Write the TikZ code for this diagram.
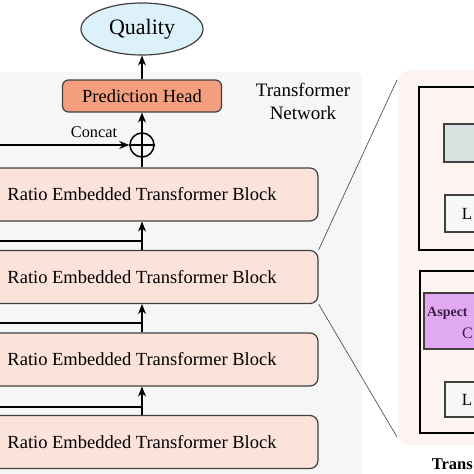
\documentclass[tikz,border=0pt]{standalone}
\usepackage{fontspec}
\setmainfont{Liberation Serif}
\usetikzlibrary{shapes.geometric,arrows.meta}

\definecolor{panelgray}{HTML}{F6F6F6}
\definecolor{panelpink}{HTML}{FDF3F1}
\definecolor{blockpink}{HTML}{FCE3DA}
\definecolor{headorange}{HTML}{F4A07E}
\definecolor{qualblue}{HTML}{DDF1FA}
\definecolor{normgray}{HTML}{D9E0E0}
\definecolor{arepurple}{HTML}{E2A9F3}
\definecolor{edgegray}{HTML}{404040}
\definecolor{aretext}{HTML}{3A1F45}

\tikzset{
  block/.style={draw=edgegray, line width=1.2pt, fill=blockpink, rounded corners=8pt,
    minimum width=352pt, minimum height=53pt, inner sep=0pt, font=\fontsize{18.5}{20}\selectfont},
  headbox/.style={draw=edgegray, line width=1.2pt, fill=headorange, rounded corners=6pt,
    minimum width=159pt, minimum height=32pt, inner sep=0pt, font=\fontsize{18.5}{20}\selectfont},
  flow/.style={-{Stealth[length=10pt,width=8pt]}, line width=1.1pt},
  joinline/.style={line width=1.1pt},
  zoomline/.style={edgegray, line width=0.6pt},
  innerbox/.style={draw=black, line width=1.3pt},
  smallbox/.style={draw=edgegray, line width=1.1pt}
}

\begin{document}
\begin{tikzpicture}[x=1pt, y=-1pt]
                \useasboundingbox (0,0) rectangle (474,474);
                \clip (0,0) rectangle (474,474);

                % panels
                \fill[panelgray, rounded corners=6pt] (-10,72) rectangle (362,490);
                \fill[panelpink, rounded corners=12pt] (398,70) rectangle (490,445);

                \node[align=center, font=\fontsize{19}{23}\selectfont] (netlabel) at (303,101) {Transformer\\Network};

                % output side
                \node[ellipse, draw=edgegray, line width=1.2pt, fill=qualblue, minimum width=122pt,
                      minimum height=52pt, font=\fontsize{22}{24}\selectfont] (quality) at (142,29) {Quality};
                \node[headbox] (head) at (142,96) {Prediction Head};
                \node[circle, draw=black, line width=1.5pt, minimum size=24pt, inner sep=0pt] (plus) at (142,145) {};
                \draw[line width=1.5pt] (plus.north) -- (plus.south) (plus.west) -- (plus.east);
                \node[font=\fontsize{16.3}{18}\selectfont] (concat) at (94,132) {Concat};

                % blocks
                \node[block] (b1) at (142,194.5) {Ratio Embedded Transformer Block};
                \node[block] (b2) at (142,277) {Ratio Embedded Transformer Block};
                \node[block] (b3) at (142,359.5) {Ratio Embedded Transformer Block};
                \node[block] (b4) at (142,442) {Ratio Embedded Transformer Block};

                \coordinate (lc) at (-5,145);
                \coordinate (l1) at (-5,241);
                \coordinate (j1) at (142,241);
                \coordinate (l2) at (-5,323);
                \coordinate (j2) at (142,323);
                \coordinate (l3) at (-5,407);
                \coordinate (j3) at (142,407);

                \draw[flow] (head.north) -- (quality.south);
                \draw[flow] (plus.north) -- (head.south);
                \draw[flow] (lc) -- (plus.west);
                \draw[joinline] (b1.north) -- (plus.south);
                \draw[flow] (b2.north) -- (b1.south);
                \draw[flow] (b3.north) -- (b2.south);
                \draw[flow] (b4.north) -- (b3.south);
                \draw[joinline] (l1) -- (j1);
                \draw[joinline] (l2) -- (j2);
                \draw[joinline] (l3) -- (j3);

                % zoom lines
                \coordinate (zt) at (397,80);
                \coordinate (zb) at (397,437);
                \draw[zoomline] (zt) -- (b2.north east);
                \draw[zoomline] (b2.south east) -- (zb);

                % detail panel
                \draw[innerbox] (419,87) rectangle (490,250);
                \draw[smallbox, fill=normgray] (444,124) rectangle (490,162);
                \draw[smallbox, fill=gray!6] (445,195) rectangle (490,232);
                \node[font=\fontsize{17}{19}\selectfont] (lone) at (467,214) {L};

                \draw[innerbox] (420,271) rectangle (490,433);
                \draw[smallbox, fill=arepurple] (424,293) rectangle (490,349);
                \node[anchor=west, font=\bfseries\fontsize{14}{15}\selectfont, text=aretext, inner sep=0pt] (aspect) at (427,313) {Aspect};
                \node[anchor=east, font=\fontsize{16}{18}\selectfont, text=aretext, inner sep=0pt] (cpart) at (473,333) {C};
                \draw[smallbox, fill=gray!6] (445,382) rectangle (490,417);
                \node[font=\fontsize{17}{19}\selectfont] (ltwo) at (467,400) {L};

                \node[anchor=east, font=\bfseries\fontsize{16.5}{19}\selectfont, inner sep=0pt] (trans) at (473,464) {Trans};
            \end{tikzpicture}
\end{document}
